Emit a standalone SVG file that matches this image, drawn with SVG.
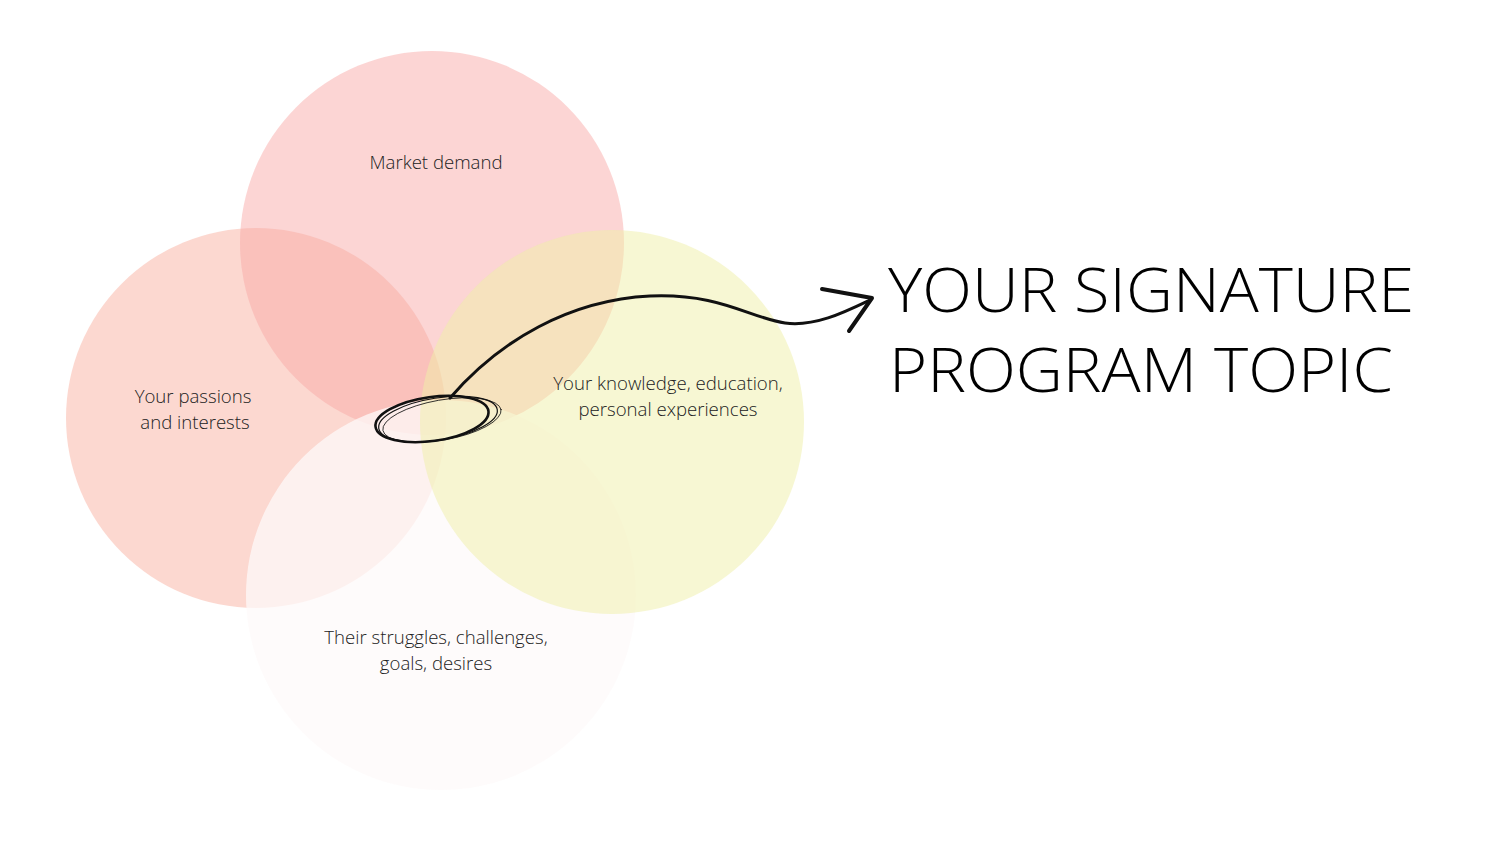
<svg xmlns="http://www.w3.org/2000/svg" width="1500" height="844" viewBox="0 0 1500 844">
<style>
.lbl{font-family:"Open Sans","Liberation Sans",sans-serif;font-weight:300;font-size:18.6px;fill:#222;text-anchor:middle}
.title{font-family:"Open Sans","Liberation Sans",sans-serif;font-weight:300;font-size:60px;fill:#000}
.ink{fill:none;stroke:#111;stroke-linecap:round;stroke-linejoin:round}
</style>
<rect width="1500" height="844" fill="#ffffff"/>
<g id="circle-passions"><circle cx="256" cy="418" r="190" fill="#f9b2a2" fill-opacity="0.5"/></g>
<g id="circle-market"><circle cx="432" cy="243" r="192" fill="#f8a8a6" fill-opacity="0.48"/></g>
<g id="circle-struggles"><circle cx="441" cy="595" r="195" fill="#fefaf9" fill-opacity="0.75"/></g>
<g id="circle-knowledge"><circle cx="612" cy="422" r="192" fill="#efefa8" fill-opacity="0.5"/></g>
<g id="labels">
<text class="lbl" x="436" y="169">Market demand</text>
<text class="lbl" x="193" y="403">Your passions</text>
<text class="lbl" x="195" y="429">and interests</text>
<text class="lbl" x="668" y="390">Your knowledge, education,</text>
<text class="lbl" x="668" y="416">personal experiences</text>
<text class="lbl" x="436" y="644">Their struggles, challenges,</text>
<text class="lbl" x="436" y="670">goals, desires</text>
</g>
<g id="scribble">
<ellipse class="ink" cx="432" cy="419" rx="57" ry="22" transform="rotate(-8 432 419)" stroke-width="2.6"/>
<ellipse class="ink" cx="438" cy="419" rx="60" ry="21" transform="rotate(-9 438 419)" stroke-width="1.2"/>
<ellipse class="ink" cx="442" cy="420" rx="60" ry="20" transform="rotate(-10 442 420)" stroke-width="0.8"/>
</g>
<g id="connectors">
<path class="ink" d="M450,398 C500,340 570,300 650,296 C720,293 750,318 785,323 C815,327 845,312 870,300" stroke-width="3"/>
<path class="ink" d="M822,289 L872,298 L849,331" stroke-width="4"/>
</g>
<g id="title">
<text class="title" x="888" y="312" textLength="526" lengthAdjust="spacingAndGlyphs">YOUR SIGNATURE</text>
<text class="title" x="889" y="392" textLength="504" lengthAdjust="spacingAndGlyphs">PROGRAM TOPIC</text>
</g>
</svg>
